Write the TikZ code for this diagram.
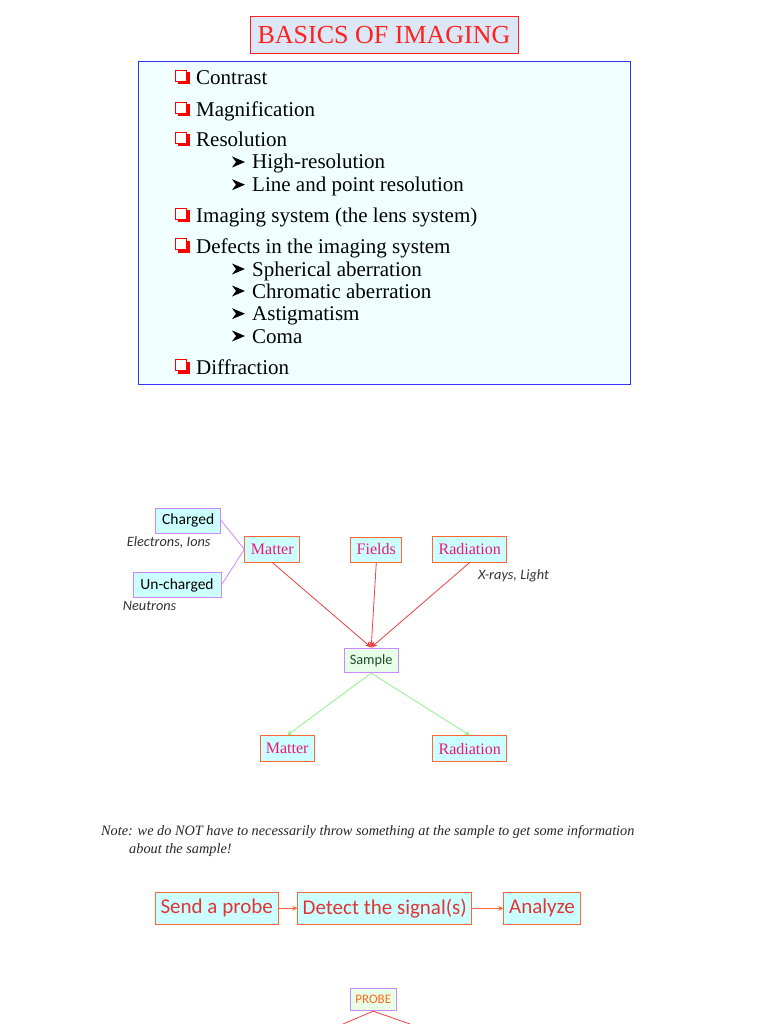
\documentclass[tikz,border=0pt]{standalone}
\usepackage{fontspec}
\setmainfont{Liberation Serif}
\newfontfamily\calfont{Carlito}
\usetikzlibrary{arrows.meta}
\definecolor{titlefill}{HTML}{DCE7F5}
\definecolor{titlered}{HTML}{FF2020}
\definecolor{listfill}{HTML}{F0FFFF}
\definecolor{listblue}{HTML}{3333FF}
\definecolor{cyanfill}{HTML}{CCFFFF}
\definecolor{boxorange}{HTML}{FF6633}
\definecolor{pinktext}{HTML}{E8187A}
\definecolor{violetc}{HTML}{CC88FF}
\definecolor{greenfill}{HTML}{E6FFE6}
\definecolor{sampletext}{HTML}{1E4D2B}
\definecolor{redline}{HTML}{F04040}
\definecolor{greenline}{HTML}{90F090}
\definecolor{probered}{HTML}{E03535}
\definecolor{probeorange}{HTML}{FF6A1A}
\definecolor{bulletred}{HTML}{FF0000}
\begin{document}
\begin{tikzpicture}[x=1pt,y=-1pt,
  listitem/.style={anchor=base west,inner sep=0pt,font=\fontsize{21}{25}\selectfont},
  matbox/.style={draw=boxorange,fill=cyanfill,text=pinktext,line width=0.9pt,inner sep=0pt,font=\fontsize{16}{19}\selectfont},
  chbox/.style={draw=violetc,fill=cyanfill,text=black,line width=0.9pt,inner sep=0pt,font=\calfont\fontsize{15.5}{18}\selectfont},
  grbox/.style={draw=violetc,fill=greenfill,line width=0.9pt,inner sep=0pt},
  prbox/.style={draw=boxorange,fill=cyanfill,text=probered,line width=0.9pt,inner sep=0pt,font=\calfont\fontsize{21}{25}\selectfont},
  lbl/.style={anchor=west,inner sep=0pt,text=black!80,font=\calfont\itshape\fontsize{14.3}{17}\selectfont},
  notetext/.style={anchor=west,inner sep=0pt,text=black!85,font=\itshape\fontsize{14.3}{17}\selectfont},
  violink/.style={draw=violetc,line width=0.8pt},
  redlink/.style={draw=redline,line width=0.8pt},
  redarrow/.style={draw=redline,line width=0.8pt,-{Stealth[length=6pt,width=5pt]}},
  greenarrow/.style={draw=greenline,line width=0.8pt,-{Stealth[length=5pt,width=5pt]}},
  orarrow/.style={draw=boxorange,line width=1pt,-{Stealth[length=5pt,width=5pt]}}
]
\useasboundingbox (0,0) rectangle (768,1024);
\fill[white] (0,0) rectangle (768,1024);

% Title
\node[draw=titlered,fill=titlefill,text=titlered,line width=1pt,inner sep=0pt,
  minimum width=268pt,minimum height=37pt,font=\fontsize{26}{30}\selectfont] (title) at (384,35.5) {BASICS OF IMAGING};

% List box
\node[draw=listblue,fill=listfill,line width=1pt,minimum width=492pt,minimum height=322pt,inner sep=0pt] (listbox) at (384,223) {};

\foreach \yy in {85,116.7,147,222.7,253,374}{
  \fill[bulletred] (177.5,\yy-12.5) rectangle (189.5,\yy-0.5);
  \filldraw[fill=white,draw=bulletred,line width=1.1pt] (175.5,\yy-14.5) rectangle (186.5,\yy-3.5);
}
\foreach \yy in {169,191.7,276,298,320.7,343}{
  \fill[black] (232,\yy-12.5) -- (245,\yy-7) -- (232,\yy-1.5) -- (236,\yy-7) -- cycle;
}

\node[listitem] (i1) at (196,85) {Contrast};
\node[listitem] (i2) at (196,116.7) {Magnification};
\node[listitem] (i3) at (196,147) {Resolution};
\node[listitem] (i4) at (252,169) {High-resolution};
\node[listitem] (i5) at (252,191.7) {Line and point resolution};
\node[listitem] (i6) at (196,222.7) {Imaging system (the lens system)};
\node[listitem] (i7) at (196,253) {Defects in the imaging system};
\node[listitem] (i8) at (252,276) {Spherical aberration};
\node[listitem] (i9) at (252,298) {Chromatic aberration};
\node[listitem] (i10) at (252,320.7) {Astigmatism};
\node[listitem] (i11) at (252,343) {Coma};
\node[listitem] (i12) at (196,374) {Diffraction};

% Diagram
\node[chbox,minimum width=65pt,minimum height=25pt] (charged) at (188.2,520.5) {Charged};
\node[chbox,minimum width=88pt,minimum height=24.5pt] (uncharged) at (177,585) {Un-charged};
\node[lbl] (electrons) at (126.7,542.7) {Electrons, Ions};
\node[lbl] (neutrons) at (122.7,606) {Neutrons};
\node[matbox,minimum width=55pt,minimum height=25.5pt] (matter) at (272.3,549.3) {Matter};
\node[matbox,minimum width=51pt,minimum height=25pt] (fields) at (376.3,549.5) {Fields};
\node[matbox,minimum width=74pt,minimum height=25.5pt] (radiation) at (469.7,549.3) {Radiation};
\node[lbl] (xrays) at (478,576) {X-rays, Light};
\node[grbox,text=sampletext,font=\calfont\fontsize{14.3}{17}\selectfont,minimum width=54pt,minimum height=24.7pt] (sample) at (371.2,660.3) {Sample};
\node[matbox,minimum width=54pt,minimum height=26pt] (matter2) at (287.2,748.7) {Matter};
\node[matbox,minimum width=74pt,minimum height=26pt] (radiation2) at (469.7,748.7) {Radiation};

\draw[violink] (charged.east) -- (matter.west);
\draw[violink] (uncharged.east) -- (matter.west);
\draw[redarrow] (matter.south) -- (sample.north);
\draw[redarrow] (fields.south) -- (sample.north);
\draw[redarrow] (radiation.south) -- (sample.north);
\draw[greenarrow] (sample.south) -- (matter2.north);
\draw[greenarrow] (sample.south) -- (radiation2.north);

% Note
\node[notetext] (note1) at (101,832) {Note: we do NOT have to necessarily throw something at the sample to get some information};
\node[notetext] (note2) at (129,850) {about the sample!};

% Probe row
\node[prbox,minimum width=123pt,minimum height=32pt] (send) at (216.7,908.3) {Send a probe};
\node[prbox,minimum width=174pt,minimum height=32pt] (detect) at (384.7,908.3) {Detect the signal(s)};
\node[prbox,minimum width=76.6pt,minimum height=32pt] (analyze) at (542,908.3) {Analyze};
\draw[orarrow] (send.east) -- (detect.west);
\draw[orarrow] (detect.east) -- (analyze.west);

% PROBE
\node[grbox,text=probeorange,font=\calfont\fontsize{13}{15}\selectfont,minimum width=45.3pt,minimum height=22.4pt] (probe) at (373.3,999.5) {PROBE};
\coordinate (pl) at (343,1024);
\coordinate (pr) at (410,1024);
\draw[redlink] (probe.south) -- (pl);
\draw[redlink] (probe.south) -- (pr);
\end{tikzpicture}
\end{document}
